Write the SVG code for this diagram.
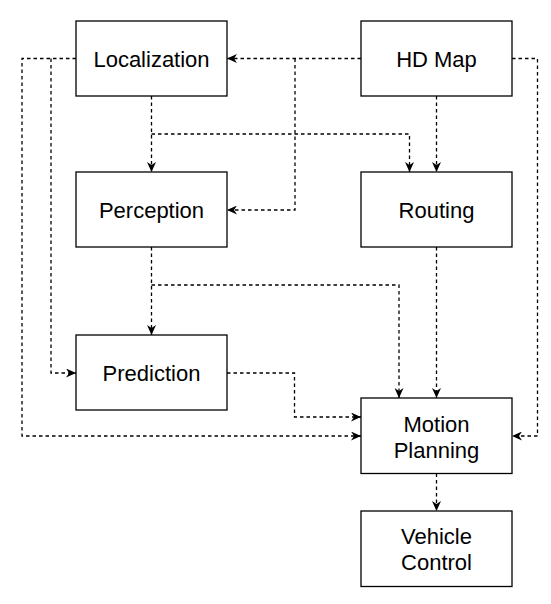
<svg xmlns="http://www.w3.org/2000/svg" width="551" height="604" viewBox="0 0 551 604">
<defs>
<marker id="arr" viewBox="0 0 10 9" markerWidth="10" markerHeight="9" refX="10" refY="4.5" orient="auto" markerUnits="userSpaceOnUse">
<path d="M0,0 L10,4.5 L0,9 L3,4.5 Z" fill="#000"/>
</marker>
<style>
.box{fill:#fff;stroke:#000;stroke-width:1.3}
.lbl{font-family:"Liberation Sans",Arial,Helvetica,sans-serif;font-size:22px;fill:#000;text-anchor:middle}
.c{fill:none;stroke:#000;stroke-width:1.3;stroke-dasharray:3.5,3}
.a{marker-end:url(#arr)}
</style>
</defs>
<rect width="551" height="604" fill="#fff"/>
<g id="connectors">
<path class="c a" d="M76,58.5 H22 V436 H361"/>
<path class="c a" d="M51,58.5 V373 H76"/>
<path class="c a" d="M151.5,96 V172"/>
<path class="c a" d="M151.5,134 H409.5 V172"/>
<path class="c a" d="M361,58.5 H227"/>
<path class="c a" d="M295,58.5 V210 H227"/>
<path class="c a" d="M436.5,96 V172"/>
<path class="c a" d="M512,58.5 H537.5 V436 H512"/>
<path class="c a" d="M436.5,247 V398"/>
<path class="c a" d="M151.5,247 V335"/>
<path class="c a" d="M151.5,285 H399 V398"/>
<path class="c a" d="M227,373 H294.5 V417 H361"/>
<path class="c a" d="M436.5,473.5 V511"/>
</g>
<g id="localization"><rect class="box" x="76" y="21" width="151" height="75"/><text class="lbl" x="151.5" y="67">Localization</text></g>
<g id="hdmap"><rect class="box" x="361" y="21" width="151" height="75"/><text class="lbl" x="436.5" y="67">HD Map</text></g>
<g id="perception"><rect class="box" x="76" y="172" width="151" height="75"/><text class="lbl" x="151.5" y="218">Perception</text></g>
<g id="routing"><rect class="box" x="361" y="172" width="151" height="75"/><text class="lbl" x="436.5" y="218">Routing</text></g>
<g id="prediction"><rect class="box" x="76" y="335" width="151" height="75"/><text class="lbl" x="151.5" y="381">Prediction</text></g>
<g id="motionplanning"><rect class="box" x="361" y="398" width="151" height="75.5"/><text class="lbl" x="436.5" y="431.5">Motion</text><text class="lbl" x="436.5" y="457.5">Planning</text></g>
<g id="vehiclecontrol"><rect class="box" x="361" y="511" width="151" height="75.5"/><text class="lbl" x="436.5" y="544">Vehicle</text><text class="lbl" x="436.5" y="570">Control</text></g>
</svg>
